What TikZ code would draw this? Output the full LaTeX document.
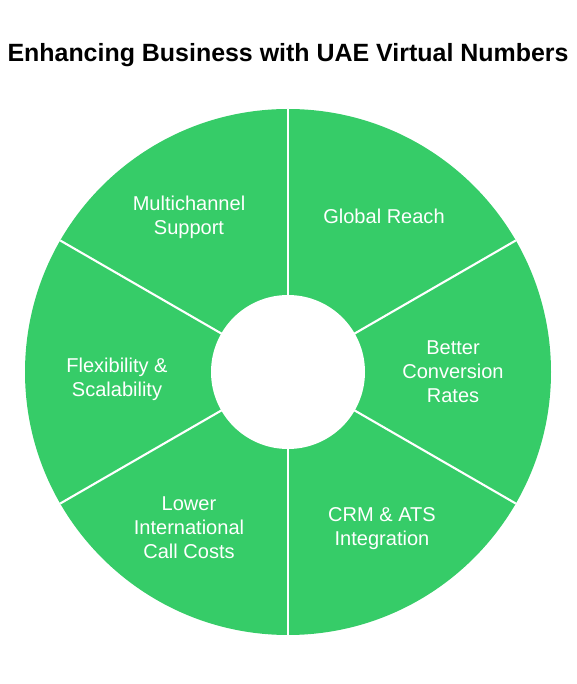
\documentclass[tikz,border=0pt]{standalone}
\usepackage{fontspec}
\setmainfont{Liberation Sans}
\usepackage{tikz}
\usetikzlibrary{positioning,calc}
\definecolor{ringgreen}{HTML}{36CC68}

\begin{document}
\begin{tikzpicture}[
    x=0.02cm, y=0.02cm,
    label/.style={text=white, align=center, font=\fontsize{11.4pt}{13.66pt}\selectfont},
    title/.style={font=\fontsize{14.2pt}{17pt}\selectfont\bfseries, text=black},
    divider/.style={draw=white, line width=1.2pt}
]
\useasboundingbox (0,0) rectangle (577,684);
\coordinate (center) at (288,312);

\node[title] (heading) at (288,629) {Enhancing Business with UAE Virtual Numbers};

% ring
\fill[ringgreen] (center) circle[radius=263];
\foreach \a in {90,30,-30,-90,-150,150}
    \draw[divider] (center) -- ($(center)+(\a:263)$);
\fill[white] (center) circle[radius=77];

% segment labels
\node[label] (reach) at (384,468) {Global Reach};
\node[label] (conversion) at (453,312) {Better\\Conversion\\Rates};
\node[label] (crm) at (382,155) {CRM \& ATS\\Integration};
\node[label] (costs) at (189,156) {Lower\\International\\Call Costs};
\node[label] (flex) at (117,305) {Flexibility \&\\Scalability};
\node[label] (multi) at (189,467) {Multichannel\\Support};
\end{tikzpicture}
\end{document}
